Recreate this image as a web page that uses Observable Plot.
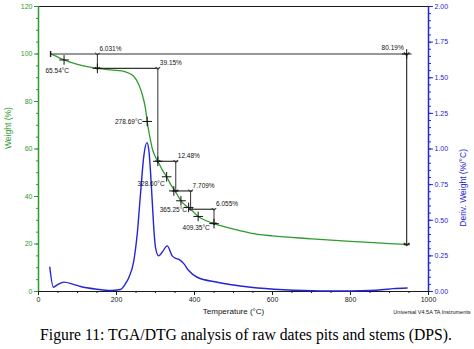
<!DOCTYPE html>
<html><head><meta charset="utf-8">
<script src="https://cdn.jsdelivr.net/npm/d3@7"></script>
<script src="https://cdn.jsdelivr.net/npm/@observablehq/plot@0.6"></script>
<style>
body{margin:0;background:#fff;}
#wrap{width:474px;height:349px;overflow:hidden;background:#fff;}
#cap{font-family:"Liberation Serif","Times New Roman",serif;font-size:15.7px;line-height:20px;text-align:center;width:474px;box-sizing:border-box;padding-left:18px;margin-top:5px;color:#000;white-space:nowrap;}
</style></head><body>
<div id="wrap"><div id="chart"></div><div id="cap">Figure 11: TGA/DTG analysis of raw dates pits and stems (DPS).</div></div>
<script>
// TGA curve (temperature °C, weight %)
const tgaTemp   = [31, 40, 65.54, 100, 151, 200, 219, 244, 257, 266, 274, 278.69, 285, 292, 300, 306, 318, 328.6, 340, 350, 365.25, 378, 390, 409.35, 430, 450, 500, 543, 600, 700, 800, 900, 944];
const tgaWeight = [100, 99.4, 97.5, 95.6, 93.97, 93.1, 92.7, 90.6, 87.2, 83, 77.3, 71.6, 65.5, 60, 56.6, 54.82, 51, 48.3, 44.8, 42.34, 38.2, 36.1, 34.63, 31.6, 29.8, 28.58, 26.3, 24.6, 23.4, 22.2, 21.1, 20.2, 19.81];
// DTG curve (temperature °C, deriv. weight %/°C)
const dtgTemp  = [29, 38, 50, 65, 90, 108, 150, 185, 210, 222, 232, 244, 253, 262, 270, 278, 283, 287, 292, 296, 300, 308, 317, 330, 343, 352, 360, 373, 385, 407, 458, 544, 629, 723, 800, 851, 880, 910, 945];
const dtgDeriv = [0.17, 0.03, 0.05, 0.066, 0.05, 0.035, 0.016, 0.007, 0.014, 0.05, 0.10, 0.21, 0.40, 0.70, 0.95, 1.045, 0.99, 0.85, 0.615, 0.43, 0.31, 0.25, 0.275, 0.32, 0.25, 0.232, 0.225, 0.194, 0.147, 0.10, 0.065, 0.03, 0.012, 0.004, 0.004, 0.007, 0.012, 0.02, 0.025];
// Step analysis
const stepTemps   = [151, 306, 352, 390, 450];
const stepLevels  = [100, 93.97, 54.82, 42.34, 34.63, 28.58];
const stepLabels  = ["6.031%", "39.15%", "12.48%", "7.709%", "6.055%"];
const hLineStart  = [31, 145, 306, 342, 385];
const hLineEnd    = [944, 308, 358, 395, 453];
const totalTemp = 944, totalFrom = 100, totalTo = 19.81, totalLabel = "80.19%";
// Marked temperatures
const markTemps  = [65.54, 278.69, 328.6, 365.25, 409.35];
const markWeights= [97.5, 71.6, 48.3, 38.2, 31.6];
const markLabels = ["65.54°C", "278.69°C", "328.60°C", "365.25°C", "409.35°C"];
const extraPlusTemps = [151, 306, 347, 385, 450, 944];
const extraPlusWeights = [93.97, 54.82, 42.34, 35.4, 28.58, 100];
// Axes ticks
const xMajor = [0, 200, 400, 600, 800, 1000];
const xMinor = d3.range(0, 1001, 50);
const yMajor = [0, 20, 40, 60, 80, 100, 120];
const yMinor = d3.range(0, 121, 5);
const dMajor = [0, 0.25, 0.5, 0.75, 1.0, 1.25, 1.5, 1.75, 2.0];
const dMinor = d3.range(0, 2.001, 0.05);
const derivFactor = 60; // 2.00 %/°C on the right axis lines up with 120 % on the left

const green = "#2f9a2f", blue = "#2424d8", ink = "#1a1a1a";
const tga = tgaTemp.map((t, i) => ({t, w: tgaWeight[i]}));
const dtg = dtgTemp.map((t, i) => ({t, d: dtgDeriv[i] * derivFactor}));
const steps = stepTemps.map((t, i) => ({t, a: stepLevels[i], b: stepLevels[i + 1], label: stepLabels[i]}));
const hlines = hLineStart.map((s, i) => ({s, e: hLineEnd[i], y: stepLevels[i]}));
const marks = markTemps.map((t, i) => ({t, w: markWeights[i], label: markLabels[i]}));
const plus = markTemps.map((t, i) => ({t, w: markWeights[i]})).concat(extraPlusTemps.map((t, i) => ({t, w: extraPlusWeights[i]})));
const labelOffsets = [[5, 11, "end"], [-5, 0, "end"], [-2, 7, "end"], [6, 9, "end"], [-2, 11, "middle"]];
const vbar = {draw(ctx, size) { const r = Math.sqrt(size / Math.PI); ctx.moveTo(0, -r); ctx.lineTo(0, r); }};
const hbar = {draw(ctx, size) { const r = Math.sqrt(size / Math.PI); ctx.moveTo(-r, 0); ctx.lineTo(r, 0); }};

const font = "'Liberation Sans', Arial, sans-serif";
const chart = Plot.plot({
  width: 474, height: 320,
  marginLeft: 38, marginRight: 46, marginTop: 6, marginBottom: 29,
  style: {fontFamily: font, background: "#fff"},
  x: {domain: [0, 1000]},
  y: {domain: [0, 120]},
  marks: [
    Plot.ruleY([120], {stroke: ink, strokeWidth: 1.2}),
    Plot.ruleY([0], {stroke: ink, strokeWidth: 1.2}),
    Plot.ruleX([0], {stroke: green, strokeWidth: 1.5}),
    Plot.ruleX([1000], {stroke: blue, strokeWidth: 1.5}),
    Plot.axisX(xMajor, {tickSize: 4, tickPadding: 2, fontSize: 7, label: null, color: ink, tickFormat: d => String(d)}),
    Plot.axisX(xMinor, {tickSize: 2, tickFormat: () => "", label: null, color: ink}),
    Plot.axisY(yMajor, {anchor: "left", tickSize: 4, tickPadding: 2, fontSize: 7, label: null, color: green, tickFormat: d => String(d)}),
    Plot.axisY(yMinor, {anchor: "left", tickSize: 2, tickFormat: () => "", label: null, color: green}),
    Plot.axisY(dMajor.map(d => d * derivFactor), {anchor: "right", tickSize: 4, tickPadding: 2, fontSize: 7, label: null, color: blue, tickFormat: d => (d / derivFactor).toFixed(2)}),
    Plot.axisY(dMinor.map(d => d * derivFactor), {anchor: "right", tickSize: 2, tickFormat: () => "", label: null, color: blue}),
    Plot.line(dtg, {x: "t", y: "d", stroke: blue, strokeWidth: 1.4, curve: "monotone-x"}),
    Plot.line(tga, {x: "t", y: "w", stroke: green, strokeWidth: 1.3, curve: "monotone-x"}),
    Plot.link(hlines, {x1: "s", x2: "e", y1: "y", y2: "y", stroke: "#333", strokeWidth: 1.2}),
    Plot.link(steps, {x1: "t", x2: "t", y1: "a", y2: "b", stroke: "#333", strokeWidth: 1, markerStart: "arrow", markerEnd: "arrow"}),
    Plot.link([{t: totalTemp, a: totalFrom, b: totalTo}], {x1: "t", x2: "t", y1: "a", y2: "b", stroke: "#333", strokeWidth: 1.2, markerStart: "arrow", markerEnd: "arrow"}),
    Plot.dot([{t: hLineStart[0], w: stepLevels[0]}], {x: "t", y: "w", symbol: vbar, r: 3, stroke: "#222"}),
    Plot.dot([{t: totalTemp, w: totalTo}], {x: "t", y: "w", symbol: hbar, r: 3, stroke: "#222"}),
    Plot.dot(plus, {x: "t", y: "w", symbol: "plus", r: 3.2, stroke: "#111", strokeWidth: 1}),
    Plot.text(steps, {x: "t", y: "a", text: "label", textAnchor: "start", dx: 2, dy: -5, fontSize: 6.5, fill: "#111"}),
    Plot.text([{t: totalTemp, w: totalFrom, label: totalLabel}], {x: "t", y: "w", text: "label", textAnchor: "end", dx: -3, dy: -6, fontSize: 6.5, fill: "#111"}),
    ...marks.map((m, i) => Plot.text([m], {x: "t", y: "w", text: "label", dx: labelOffsets[i][0], dy: labelOffsets[i][1], textAnchor: labelOffsets[i][2], fontSize: 6.5, fill: "#111"})),
    Plot.text(["Weight (%)"], {frameAnchor: "left", dx: -30, rotate: -90, fill: green, fontSize: 8.5}),
    Plot.text(["Deriv. Weight (%/°C)"], {frameAnchor: "right", dx: 35, rotate: -90, fill: blue, fontSize: 8.5}),
    Plot.text(["Temperature (°C)"], {frameAnchor: "bottom", dy: 22, fill: "#111", fontSize: 8}),
    Plot.text(["Universal V4.5A TA Instruments"], {frameAnchor: "bottom-right", dx: 42, dy: 22, textAnchor: "end", fill: "#111", fontSize: 5.5})
  ]
});
document.getElementById("chart").appendChild(chart);
</script>
</body></html>
